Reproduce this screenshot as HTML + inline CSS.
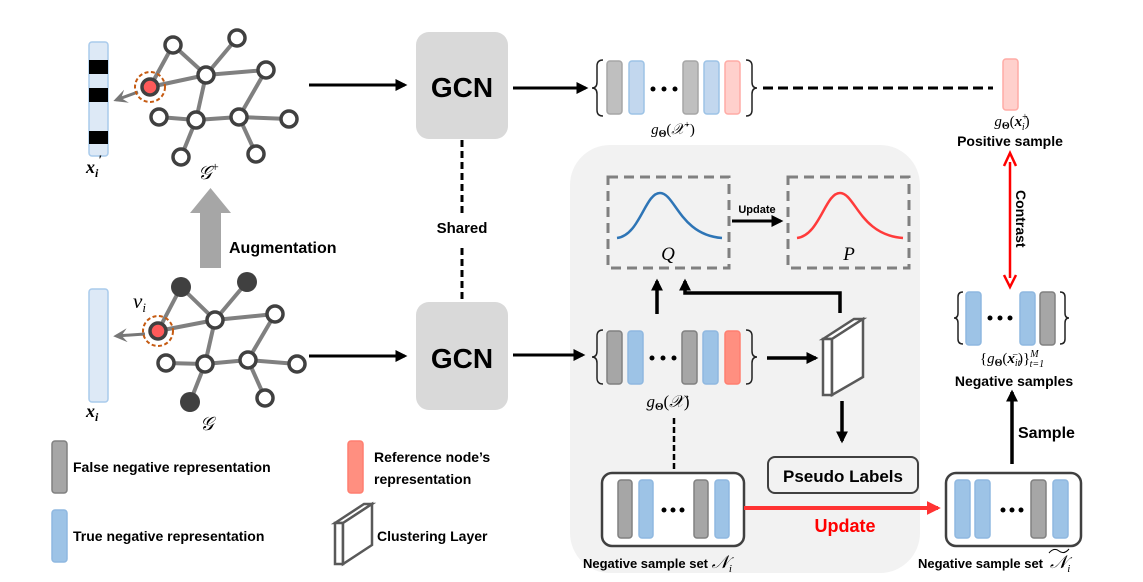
<!DOCTYPE html>
<html><head><meta charset="utf-8"><style>
html,body{margin:0;padding:0;background:#fff;}
svg{display:block;}
.b{font-family:"Liberation Sans",sans-serif;font-weight:bold;fill:#000;}
.m{font-family:"Liberation Serif",serif;font-style:italic;fill:#000;}
</style></head><body>
<svg width="1143" height="582" viewBox="0 0 1143 582" xmlns="http://www.w3.org/2000/svg">
<defs>
<marker id="ahb" viewBox="0 0 10 10" markerWidth="12" markerHeight="12" refX="8" refY="5" orient="auto" markerUnits="userSpaceOnUse"><path d="M0,0 L10,5 L0,10 z" fill="#000"/></marker>
<marker id="ahr" viewBox="0 0 10 10" markerWidth="14" markerHeight="14" refX="8" refY="5" orient="auto" markerUnits="userSpaceOnUse"><path d="M0,0 L10,5 L0,10 z" fill="#f33"/></marker>
<marker id="ahg" viewBox="0 0 10 10" markerWidth="14" markerHeight="14" refX="8" refY="5" orient="auto" markerUnits="userSpaceOnUse"><path d="M0,0 L10,5 L0,10 L4,5 z" fill="#777"/></marker>
</defs>

<rect x="570" y="145" width="350" height="428" rx="40" fill="#f2f2f2"/>

<!-- TOP GRAPH -->
<rect x="89" y="42" width="19" height="114" rx="3" fill="#dde9f6" stroke="#a9cbec" stroke-width="1.5"/>
<rect x="89" y="60" width="19" height="14" fill="#000"/>
<rect x="89" y="88" width="19" height="14" fill="#000"/>
<rect x="89" y="131" width="19" height="13" fill="#000"/>
<g stroke="#808080" stroke-width="4">
<line x1="173" y1="45" x2="150" y2="87"/><line x1="173" y1="45" x2="206" y2="75"/>
<line x1="237" y1="38" x2="206" y2="75"/><line x1="150" y1="87" x2="206" y2="75"/>
<line x1="206" y1="75" x2="266" y2="70"/><line x1="206" y1="75" x2="196" y2="120"/>
<line x1="159" y1="117" x2="196" y2="120"/><line x1="196" y1="120" x2="239" y2="117"/>
<line x1="239" y1="117" x2="289" y2="119"/><line x1="266" y1="70" x2="239" y2="117"/>
<line x1="196" y1="120" x2="181" y2="157"/><line x1="239" y1="117" x2="256" y2="154"/>
</g>
<line x1="138" y1="92" x2="116" y2="100" stroke="#777" stroke-width="3" marker-end="url(#ahg)"/>
<g fill="#fff" stroke="#404040" stroke-width="3.5">
<circle cx="173" cy="45" r="8"/><circle cx="237" cy="38" r="8"/><circle cx="206" cy="75" r="8"/>
<circle cx="266" cy="70" r="8"/><circle cx="159" cy="117" r="8"/><circle cx="196" cy="120" r="8"/>
<circle cx="239" cy="117" r="8"/><circle cx="289" cy="119" r="8"/><circle cx="181" cy="157" r="8"/><circle cx="256" cy="154" r="8"/>
</g>
<circle cx="150" cy="87" r="15" fill="none" stroke="#c55a11" stroke-width="2" stroke-dasharray="4,2.5"/>
<circle cx="150" cy="87" r="8" fill="#ff5a5a" stroke="#404040" stroke-width="3.5"/>
<text x="86" y="173" class="m" font-size="18" font-weight="bold">x<tspan font-size="12" dy="4">i</tspan><tspan font-size="13" dy="-13">′</tspan></text>
<text x="198" y="179" class="m" font-size="19">𝒢<tspan font-size="13" dy="-8" font-style="normal">+</tspan></text>

<polygon points="200,268 221,268 221,213 231,213 210.5,188 190,213 200,213" fill="#a6a6a6"/>
<text x="229" y="253" class="b" font-size="16">Augmentation</text>

<!-- BOTTOM GRAPH -->
<rect x="89" y="289" width="19" height="113" rx="3" fill="#dde9f6" stroke="#a9cbec" stroke-width="1.5"/>
<g stroke="#808080" stroke-width="4">
<line x1="181" y1="287" x2="158" y2="331"/><line x1="181" y1="287" x2="215" y2="320"/>
<line x1="247" y1="282" x2="215" y2="320"/><line x1="158" y1="331" x2="215" y2="320"/>
<line x1="215" y1="320" x2="275" y2="314"/><line x1="215" y1="320" x2="205" y2="364"/>
<line x1="166" y1="363" x2="205" y2="364"/><line x1="205" y1="364" x2="248" y2="360"/>
<line x1="248" y1="360" x2="297" y2="364"/><line x1="275" y1="314" x2="248" y2="360"/>
<line x1="205" y1="364" x2="190" y2="402"/><line x1="248" y1="360" x2="265" y2="398"/>
</g>
<line x1="145" y1="334" x2="116" y2="336" stroke="#777" stroke-width="3" marker-end="url(#ahg)"/>
<g fill="#404040"><circle cx="181" cy="287" r="10"/><circle cx="247" cy="282" r="10"/><circle cx="190" cy="402" r="10"/></g>
<g fill="#fff" stroke="#404040" stroke-width="3.5">
<circle cx="215" cy="320" r="8"/><circle cx="275" cy="314" r="8"/><circle cx="166" cy="363" r="8"/>
<circle cx="205" cy="364" r="8"/><circle cx="248" cy="360" r="8"/><circle cx="297" cy="364" r="8"/><circle cx="265" cy="398" r="8"/>
</g>
<circle cx="158" cy="331" r="15" fill="none" stroke="#c55a11" stroke-width="2" stroke-dasharray="4,2.5"/>
<circle cx="158" cy="331" r="8" fill="#ff5a5a" stroke="#404040" stroke-width="3.5"/>
<text x="133" y="308" class="m" font-size="21">v<tspan font-size="13" dy="4">i</tspan></text>
<text x="86" y="417" class="m" font-size="18" font-weight="bold">x<tspan font-size="12" dy="4">i</tspan></text>
<text x="200" y="430" class="m" font-size="19">𝒢</text>

<line x1="309" y1="85" x2="405" y2="85" stroke="#000" stroke-width="3" marker-end="url(#ahb)"/>
<line x1="309" y1="356" x2="405" y2="356" stroke="#000" stroke-width="3" marker-end="url(#ahb)"/>

<rect x="416" y="32" width="92" height="107" rx="13" fill="#d9d9d9"/>
<rect x="416" y="302" width="92" height="108" rx="13" fill="#d9d9d9"/>
<text x="462" y="97" class="b" font-size="28" text-anchor="middle">GCN</text>
<text x="462" y="368" class="b" font-size="28" text-anchor="middle">GCN</text>
<line x1="462" y1="140" x2="462" y2="213" stroke="#000" stroke-width="3" stroke-dasharray="7,4"/>
<line x1="462" y1="248" x2="462" y2="302" stroke="#000" stroke-width="3" stroke-dasharray="7,4"/>
<text x="462" y="233" class="b" font-size="15" text-anchor="middle">Shared</text>

<line x1="513" y1="88" x2="586" y2="88" stroke="#000" stroke-width="3" marker-end="url(#ahb)"/>
<line x1="513" y1="355" x2="583" y2="355" stroke="#000" stroke-width="3" marker-end="url(#ahb)"/>

<!-- top vectors -->
<path d="M603,60 q-6,0 -6,6 v16 q0,6 -5,6 q5,0 5,6 v16 q0,6 6,6" fill="none" stroke="#222" stroke-width="1.5"/>
<g stroke-width="1.5">
<rect x="607" y="61" width="15" height="53" rx="3" fill="#bfbfbf" stroke="#a6a6a6"/>
<rect x="629" y="61" width="15" height="53" rx="3" fill="#c2d7ee" stroke="#9dc3e6"/>
<rect x="683" y="61" width="15" height="53" rx="3" fill="#bfbfbf" stroke="#a6a6a6"/>
<rect x="704" y="61" width="15" height="53" rx="3" fill="#c2d7ee" stroke="#9dc3e6"/>
<rect x="725" y="61" width="15" height="53" rx="3" fill="#ffd0cc" stroke="#ffaba5"/>
</g>
<g fill="#000"><circle cx="653" cy="89" r="2.5"/><circle cx="664" cy="89" r="2.5"/><circle cx="675" cy="89" r="2.5"/></g>
<path d="M746,60 q6,0 6,6 v16 q0,6 5,6 q-5,0 -5,6 v16 q0,6 -6,6" fill="none" stroke="#222" stroke-width="1.5"/>
<text x="673" y="134" class="m" font-size="15" text-anchor="middle">g<tspan font-size="10" dy="3" font-weight="bold" font-style="normal">Θ</tspan><tspan dy="-3" font-style="normal">(</tspan>𝒳<tspan font-size="10" dy="-6" font-style="normal">+</tspan><tspan dy="6" font-style="normal">)</tspan></text>
<line x1="763" y1="88" x2="993" y2="88" stroke="#000" stroke-width="3" stroke-dasharray="10,5"/>
<rect x="1003" y="59" width="15" height="51" rx="3" fill="#ffd0cc" stroke="#ffaba5" stroke-width="1.5"/>
<text x="1012" y="126" class="m" font-size="15" text-anchor="middle">g<tspan font-size="10" dy="3" font-weight="bold" font-style="normal">Θ</tspan><tspan dy="-3" font-style="normal">(</tspan><tspan font-weight="bold">x</tspan><tspan font-size="10" dy="-6" font-style="normal">+</tspan><tspan font-size="10" dx="-6" dy="10">i</tspan><tspan dy="-4" font-style="normal">)</tspan></text>
<text x="1010" y="146" class="b" font-size="14" text-anchor="middle">Positive sample</text>

<line x1="1010" y1="162" x2="1010" y2="278" stroke="#f00" stroke-width="2.5"/>
<path d="M1004,166 L1010,153 L1016,166" fill="none" stroke="#f00" stroke-width="2.5"/>
<path d="M1004,275 L1010,287 L1016,275" fill="none" stroke="#f00" stroke-width="2.5"/>
<text class="b" font-size="14" transform="translate(1016,190) rotate(90)">Contrast</text>

<!-- negative samples -->
<path d="M963,292 q-5,0 -5,5 v16 q0,5 -4,5 q4,0 4,5 v16 q0,5 5,5" fill="none" stroke="#222" stroke-width="1.5"/>
<g stroke-width="1.5">
<rect x="966" y="292" width="15" height="53" rx="3" fill="#9dc3e6" stroke="#8fb8e0"/>
<rect x="1020" y="292" width="15" height="53" rx="3" fill="#9dc3e6" stroke="#8fb8e0"/>
<rect x="1040" y="292" width="15" height="53" rx="3" fill="#a6a6a6" stroke="#808080"/>
</g>
<g fill="#000"><circle cx="990" cy="318" r="2.5"/><circle cx="1000" cy="318" r="2.5"/><circle cx="1010" cy="318" r="2.5"/></g>
<path d="M1060,292 q5,0 5,5 v16 q0,5 4,5 q-4,0 -4,5 v16 q0,5 -5,5" fill="none" stroke="#222" stroke-width="1.5"/>
<text x="1012" y="363" class="m" font-size="15" text-anchor="middle"><tspan font-style="normal">{</tspan>g<tspan font-size="10" dy="3" font-weight="bold" font-style="normal">Θ</tspan><tspan dy="-3" font-style="normal">(</tspan><tspan font-weight="bold">x</tspan><tspan font-size="10" dy="3">it</tspan><tspan font-size="10" dy="-8" dx="-8" font-style="normal">−</tspan><tspan dy="5" font-style="normal">)}</tspan><tspan font-size="10" dy="-6">M</tspan><tspan font-size="10" dy="10" dx="-9">t=1</tspan></text>
<text x="1014" y="386" class="b" font-size="14" text-anchor="middle">Negative samples</text>

<!-- Q / P -->
<rect x="608" y="177" width="121" height="91" fill="none" stroke="#808080" stroke-width="3" stroke-dasharray="10,6"/>
<rect x="788" y="177" width="121" height="91" fill="none" stroke="#808080" stroke-width="3" stroke-dasharray="10,6"/>
<path d="M617,238 C640,235 645,193 660,193 C675,193 680,235 722,238" fill="none" stroke="#2e75b6" stroke-width="2.5"/>
<path d="M797,238 C820,235 825,193 840,193 C855,193 860,235 903,238" fill="none" stroke="#ff3b3b" stroke-width="2.5"/>
<text x="668" y="260" class="m" font-size="19" text-anchor="middle">Q</text>
<text x="849" y="260" class="m" font-size="19" text-anchor="middle">P</text>
<line x1="732" y1="221" x2="781" y2="221" stroke="#000" stroke-width="3" marker-end="url(#ahb)"/>
<text x="757" y="213" class="b" font-size="11" text-anchor="middle">Update</text>

<line x1="657" y1="314" x2="657" y2="281" stroke="#000" stroke-width="3.5" marker-end="url(#ahb)"/>
<polyline points="840,313 840,293 685,293 685,281" fill="none" stroke="#000" stroke-width="3.5" marker-end="url(#ahb)"/>

<!-- bottom vectors -->
<path d="M603,330 q-6,0 -6,6 v15 q0,6 -5,6 q5,0 5,6 v15 q0,6 6,6" fill="none" stroke="#222" stroke-width="1.5"/>
<g stroke-width="1.5">
<rect x="607" y="331" width="15" height="53" rx="3" fill="#a6a6a6" stroke="#808080"/>
<rect x="628" y="331" width="15" height="53" rx="3" fill="#9dc3e6" stroke="#8fb8e0"/>
<rect x="682" y="331" width="15" height="53" rx="3" fill="#a6a6a6" stroke="#808080"/>
<rect x="703" y="331" width="15" height="53" rx="3" fill="#9dc3e6" stroke="#8fb8e0"/>
<rect x="725" y="331" width="15" height="53" rx="3" fill="#ff8f80" stroke="#ff7f70"/>
</g>
<g fill="#000"><circle cx="652" cy="358" r="2.5"/><circle cx="663" cy="358" r="2.5"/><circle cx="674" cy="358" r="2.5"/></g>
<path d="M746,330 q6,0 6,6 v15 q0,6 5,6 q-5,0 -5,6 v15 q0,6 -6,6" fill="none" stroke="#222" stroke-width="1.5"/>
<text x="668" y="407" class="m" font-size="17" text-anchor="middle">g<tspan font-size="11" dy="3" font-weight="bold" font-style="normal">Θ</tspan><tspan dy="-3" font-style="normal">(</tspan>𝒳<tspan font-style="normal">)</tspan></text>
<line x1="767" y1="358" x2="816" y2="358" stroke="#000" stroke-width="3.5" marker-end="url(#ahb)"/>

<g fill="#fff" stroke="#595959" stroke-width="2.5">
<polygon points="823,339 854,319 863,319 832,339"/>
<polygon points="823,339 832,339 832,395 823,395"/>
<polygon points="832,339 863,319 863,377 832,395"/>
</g>
<line x1="842" y1="401" x2="842" y2="441" stroke="#000" stroke-width="3.5" marker-end="url(#ahb)"/>

<rect x="768" y="457" width="150" height="36" rx="7" fill="#f2f2f2" stroke="#404040" stroke-width="2"/>
<text x="843" y="482" class="b" font-size="17" text-anchor="middle">Pseudo Labels</text>

<line x1="674" y1="418" x2="674" y2="472" stroke="#000" stroke-width="2.5" stroke-dasharray="6,3"/>

<rect x="602" y="473" width="142" height="73" rx="10" fill="#fff" stroke="#404040" stroke-width="2.5"/>
<g stroke-width="1.5">
<rect x="618" y="480" width="14" height="58" rx="3" fill="#a6a6a6" stroke="#808080"/>
<rect x="639" y="480" width="14" height="58" rx="3" fill="#9dc3e6" stroke="#8fb8e0"/>
<rect x="694" y="480" width="14" height="58" rx="3" fill="#a6a6a6" stroke="#808080"/>
<rect x="715" y="480" width="14" height="58" rx="3" fill="#9dc3e6" stroke="#8fb8e0"/>
</g>
<g fill="#000"><circle cx="664" cy="510" r="2.5"/><circle cx="673" cy="510" r="2.5"/><circle cx="682" cy="510" r="2.5"/></g>
<text x="583" y="568" class="b" font-size="13">Negative sample set <tspan class="m" font-weight="normal" font-size="18">𝒩</tspan><tspan class="m" font-weight="normal" font-size="11" dy="4">i</tspan></text>

<line x1="744" y1="508" x2="938" y2="508" stroke="#f33" stroke-width="4" marker-end="url(#ahr)"/>
<text x="845" y="532" font-family="Liberation Sans,sans-serif" font-weight="bold" font-size="18" fill="#f00" text-anchor="middle">Update</text>

<rect x="946" y="473" width="135" height="73" rx="10" fill="#fff" stroke="#404040" stroke-width="2.5"/>
<g stroke-width="1.5">
<rect x="955" y="480" width="15" height="58" rx="3" fill="#9dc3e6" stroke="#8fb8e0"/>
<rect x="975" y="480" width="15" height="58" rx="3" fill="#9dc3e6" stroke="#8fb8e0"/>
<rect x="1031" y="480" width="15" height="58" rx="3" fill="#a6a6a6" stroke="#808080"/>
<rect x="1053" y="480" width="15" height="58" rx="3" fill="#9dc3e6" stroke="#8fb8e0"/>
</g>
<g fill="#000"><circle cx="1003" cy="510" r="2.5"/><circle cx="1012" cy="510" r="2.5"/><circle cx="1021" cy="510" r="2.5"/></g>
<text x="918" y="568" class="b" font-size="13">Negative sample set</text>
<text x="1050" y="568" class="m" font-size="18">𝒩<tspan font-size="11" dy="4">i</tspan></text>
<path d="M1049,553 q5,-6 10,-2 t10,-2" fill="none" stroke="#000" stroke-width="1"/>

<line x1="1012" y1="464" x2="1012" y2="392" stroke="#000" stroke-width="3.5" marker-end="url(#ahb)"/>
<text x="1018" y="438" class="b" font-size="16">Sample</text>

<!-- legend -->
<rect x="52" y="441" width="15" height="52" rx="3" fill="#a6a6a6" stroke="#808080" stroke-width="1.5"/>
<text x="73" y="472" class="b" font-size="14">False negative representation</text>
<rect x="52" y="510" width="15" height="52" rx="3" fill="#9dc3e6" stroke="#8fb8e0" stroke-width="1.5"/>
<text x="73" y="541" class="b" font-size="14">True negative representation</text>
<rect x="348" y="441" width="15" height="52" rx="3" fill="#ff8f80" stroke="#ff7f70" stroke-width="1.5"/>
<text x="374" y="462" class="b" font-size="14">Reference node’s</text>
<text x="374" y="484" class="b" font-size="14">representation</text>
<g fill="#fff" stroke="#595959" stroke-width="2.5">
<polygon points="335,523 364,504 372,504 343,523"/>
<polygon points="335,523 343,523 343,564 335,564"/>
<polygon points="343,523 372,504 372,545 343,564"/>
</g>
<text x="377" y="541" class="b" font-size="14">Clustering Layer</text>
</svg>
</body></html>
